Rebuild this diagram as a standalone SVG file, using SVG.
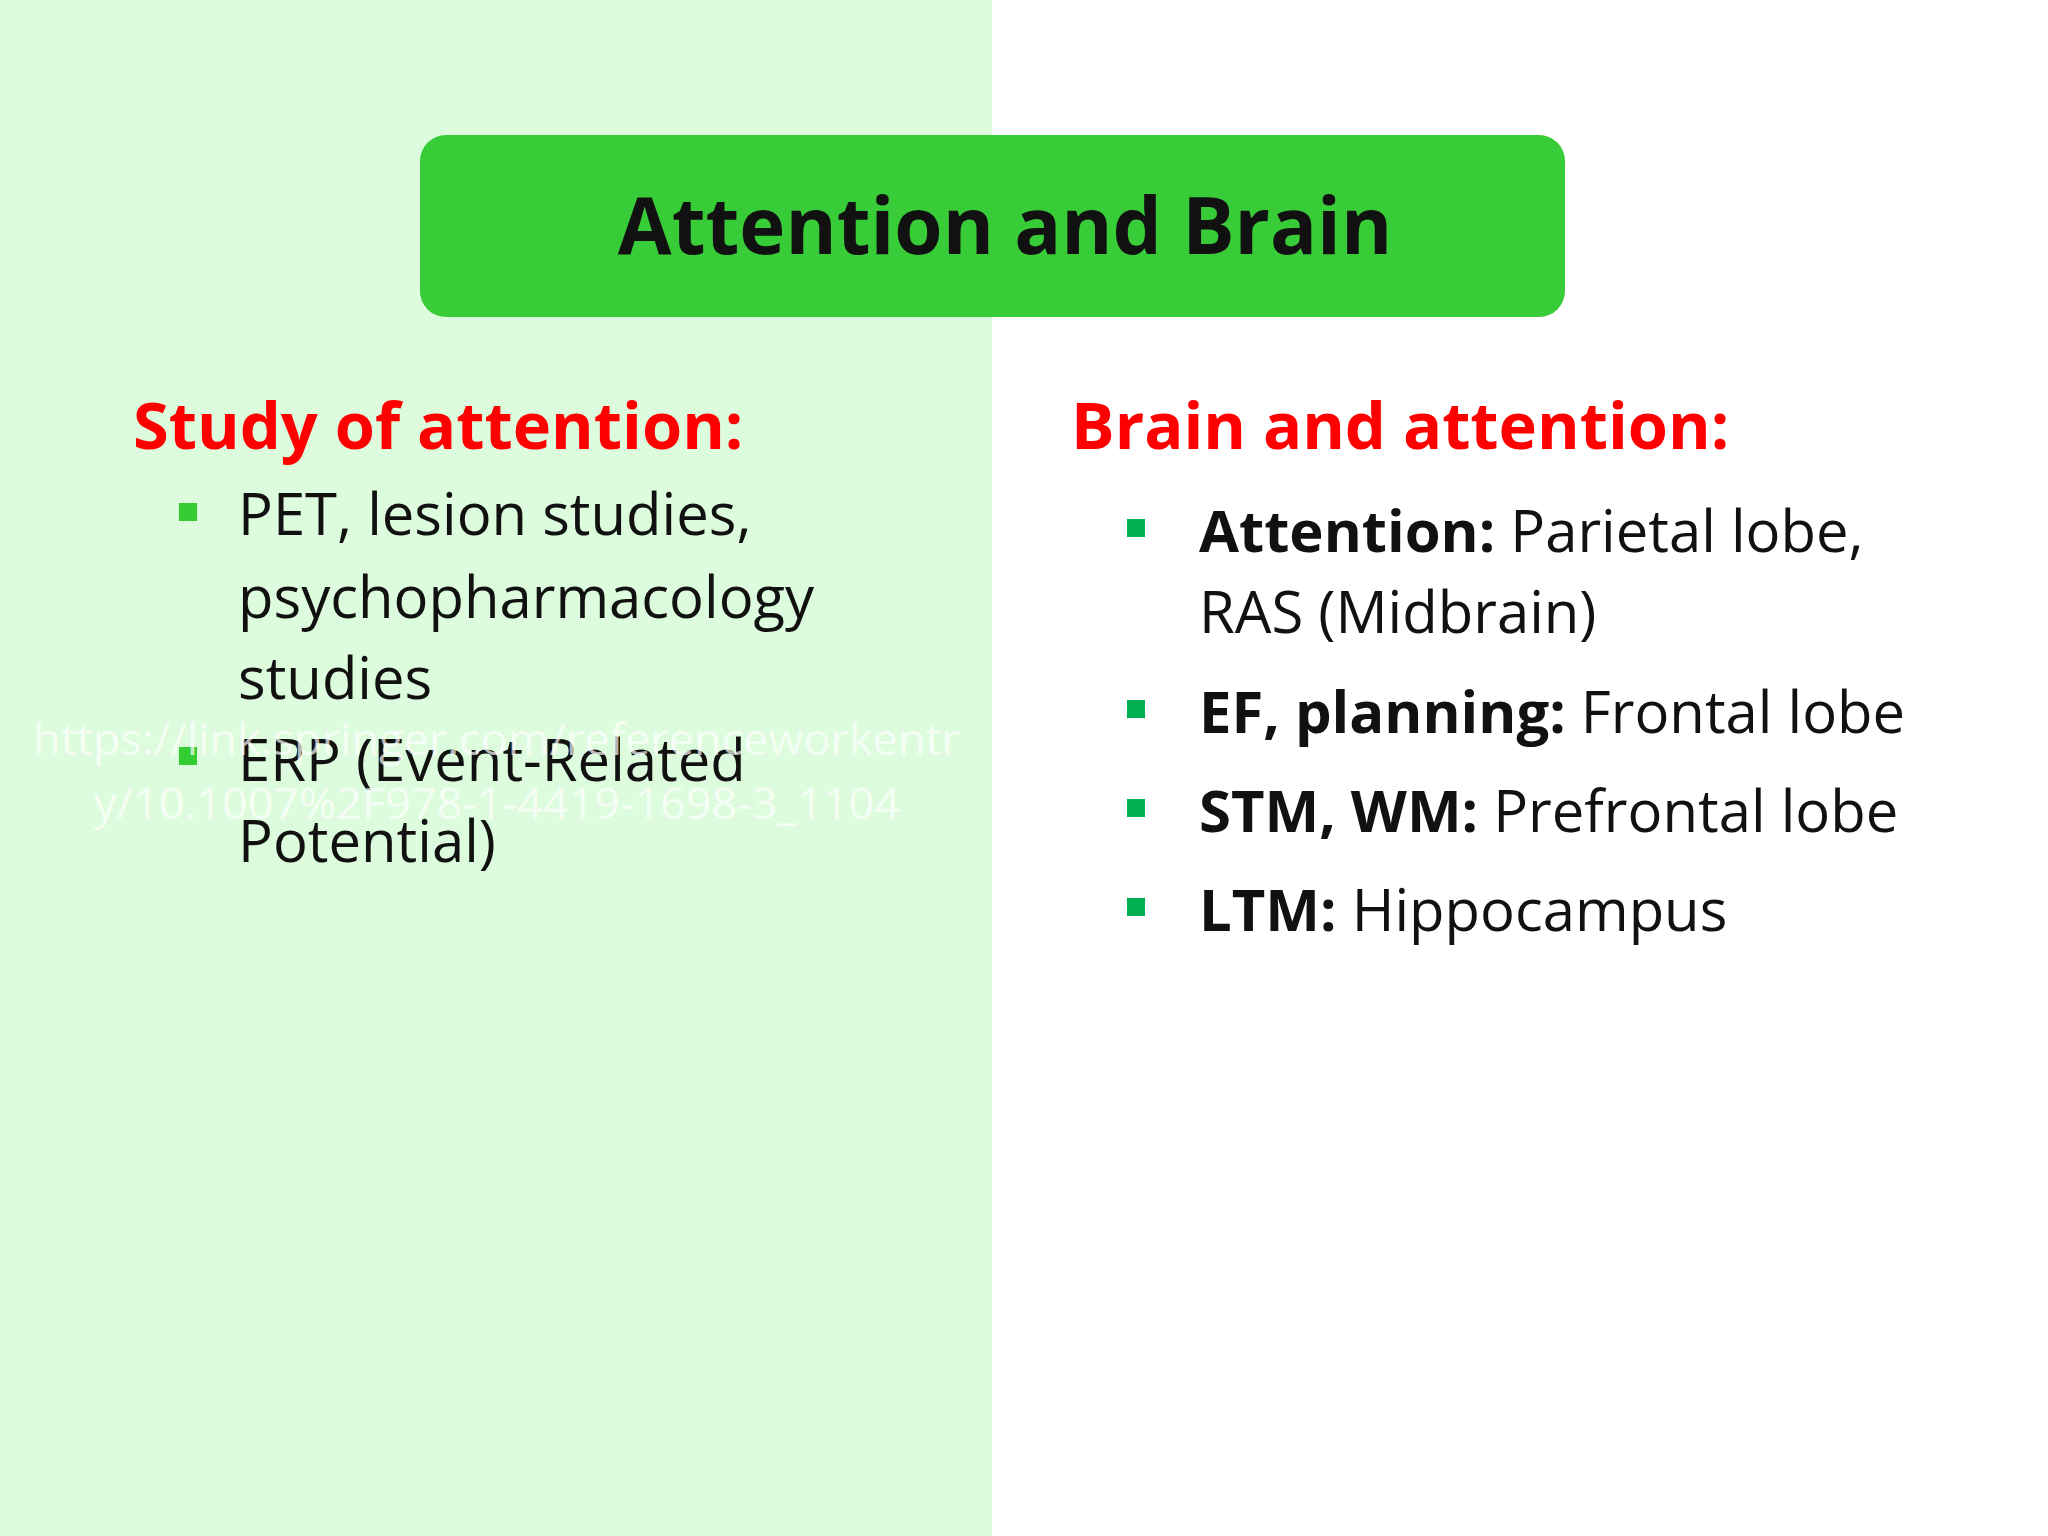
<svg xmlns="http://www.w3.org/2000/svg" width="2048" height="1536" viewBox="0 0 2048 1536">
<style>
.t{font-family:"Open Sans","Noto Sans",sans-serif;fill:#111}
.h{font-family:"Open Sans","Noto Sans",sans-serif;font-weight:bold;fill:#FF0000;font-size:65px}
.i{font-size:58px}
.w{font-family:"Open Sans","Noto Sans",sans-serif;fill:#fff;fill-opacity:0.7;font-size:44px}
</style>
<rect width="2048" height="1536" fill="#fff"/>
<rect width="992" height="1536" fill="#DDFCDD"/>
<g id="title">
<rect x="420" y="135" width="1145" height="182" rx="26" fill="#38CC38"/>
<text class="t" x="1005" y="254" text-anchor="middle" font-size="78" font-weight="bold">Attention and Brain</text>
</g>
<g id="left">
<text class="h" x="133" y="449">Study of attention:</text>
<rect x="179" y="503" width="18" height="18" fill="#33CC33"/>
<rect x="179" y="747" width="18" height="18" fill="#33CC33"/>
<text class="t i" x="238" y="535">PET, lesion studies,</text>
<text class="t i" x="238" y="618">psychopharmacology</text>
<text class="t i" x="238" y="699">studies</text>
<text class="t i" x="238" y="781">ERP (Event-Related</text>
<text class="t i" x="238" y="862">Potential)</text>
<text class="w" x="33" y="755" textLength="927" lengthAdjust="spacingAndGlyphs">https://link.springer.com/referenceworkentr</text>
<text class="w" x="94" y="819" textLength="806" lengthAdjust="spacingAndGlyphs">y/10.1007%2F978-1-4419-1698-3_1104</text>
</g>
<g id="right">
<text class="h" x="1071" y="449">Brain and attention:</text>
<g fill="#00B050">
<rect x="1127" y="519" width="18" height="18"/>
<rect x="1127" y="700" width="18" height="18"/>
<rect x="1127" y="799" width="18" height="18"/>
<rect x="1127" y="898" width="18" height="18"/>
</g>
<text class="t i" x="1199" y="552"><tspan font-weight="bold">Attention:</tspan> Parietal lobe,</text>
<text class="t i" x="1199" y="633">RAS (Midbrain)</text>
<text class="t i" x="1199" y="733"><tspan font-weight="bold">EF, planning:</tspan> Frontal lobe</text>
<text class="t i" x="1199" y="832"><tspan font-weight="bold">STM, WM:</tspan> Prefrontal lobe</text>
<text class="t i" x="1199" y="931"><tspan font-weight="bold">LTM:</tspan> Hippocampus</text>
</g>
</svg>
